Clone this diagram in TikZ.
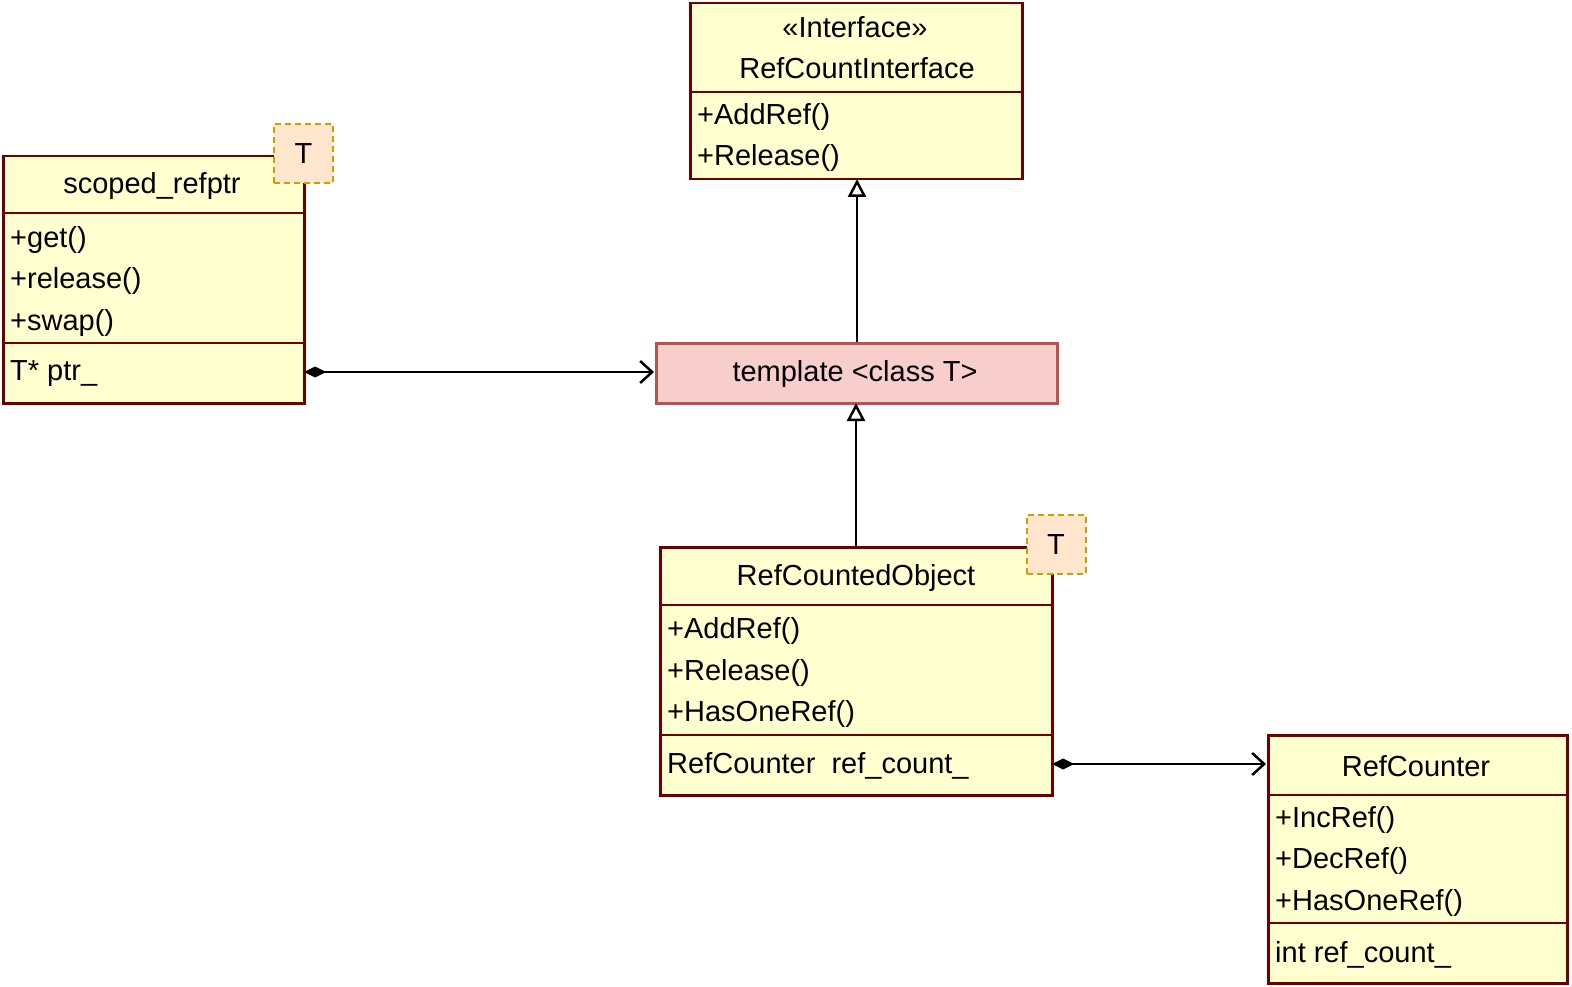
\documentclass[tikz,border=0pt]{standalone}
\usepackage{fontspec}
\setmainfont{Liberation Sans}
\usetikzlibrary{arrows.meta}
\definecolor{bd}{HTML}{6F0000}
\definecolor{fl}{HTML}{FFFFD0}
\begin{document}
\begin{tikzpicture}[x=1pt,y=-1pt,
 box/.style={draw=bd,fill=fl,line width=2.5pt,inner sep=0,anchor=north west},
 t/.style={inner sep=0,font=\fontsize{29}{34}\selectfont,anchor=west},
 c/.style={inner sep=0,font=\fontsize{29}{34}\selectfont},
 tb/.style={draw={rgb,255:red,215;green,155;blue,0},fill={rgb,255:red,255;green,230;blue,204},dash pattern=on 6pt off 4pt,line width=2pt,minimum width=59pt,minimum height=59pt,inner sep=0,font=\fontsize{29}{34}\selectfont},
 ln/.style={line width=2.5pt},
 inh/.style={line width=2.5pt,-{Triangle[open,length=18pt,width=18pt]}},
 comp/.style={line width=2.5pt,{Diamond[length=22pt,width=11pt]}-{Straight Barb[length=12pt,width=22pt]}}]
\useasboundingbox (0,0) rectangle (1572,987);
% Interface
\node[box,minimum width=332pt,minimum height=176pt] (ri) at (689,2) {};
\draw[bd,ln] (689,92) -- (1021,92);
\node[c] (ri1) at (855,27) {<<Interface>>};
\node[c] (ri2) at (857,68) {RefCountInterface};
\node[t] (ri3) at (697,117) {+AddRef()};
\node[t] (ri4) at (697,158) {+Release()};
% scoped_refptr
\node[box,minimum width=301pt,minimum height=247pt] (sr) at (2,155) {};
\draw[bd,ln] (2,213) -- (303,213) (2,343) -- (303,343);
\node[c] (sr0) at (152,186) {scoped\_refptr};
\node[t] (sr1) at (10,240) {+get()};
\node[t] (sr2) at (10,281) {+release()};
\node[t] (sr3) at (10,323) {+swap()};
\node[t] (sr4) at (10,374) {T* ptr\_};
\node[tb] (srt) at (303.5,153.5) {T};
% template
\node[box,draw={rgb,255:red,184;green,84;blue,80},fill={rgb,255:red,248;green,206;blue,204},minimum width=401pt,minimum height=60pt] (tp) at (655,342) {};
\node[c] at (855,374) {template <class T>};
% RefCountedObject
\node[box,minimum width=392pt,minimum height=248pt] (ro) at (659,546) {};
\draw[bd,ln] (659,605) -- (1051,605) (659,735) -- (1051,735);
\node[c] (ro0) at (856,578) {RefCountedObject};
\node[t] (ro1) at (667,631) {+AddRef()};
\node[t] (ro2) at (667,673) {+Release()};
\node[t] (ro3) at (667,714) {+HasOneRef()};
\node[t] (ro4) at (667,766) {RefCounter\ \ ref\_count\_};
\node[tb] (rot) at (1056,544.5) {T};
% RefCounter
\node[box,minimum width=299pt,minimum height=248pt] (rc) at (1267,734) {};
\draw[bd,ln] (1267,795) -- (1566,795) (1267,923) -- (1566,923);
\node[c] (rc0) at (1416,766) {RefCounter};
\node[t] (rc1) at (1275,820) {+IncRef()};
\node[t] (rc2) at (1275,861) {+DecRef()};
\node[t] (rc3) at (1275,903) {+HasOneRef()};
\node[t] (rc4) at (1275,955) {int ref\_count\_};
% connectors
\coordinate (a1) at (857,342); \coordinate (a2) at (857,179);
\draw[inh] (a1) -- (a2);
\coordinate (b1) at (856,546); \coordinate (b2) at (856,403);
\draw[inh] (b1) -- (b2);
\coordinate (c1) at (304,372); \coordinate (c2) at (654,372);
\draw[comp] (c1) -- (c2);
\coordinate (d1) at (1052,764); \coordinate (d2) at (1266,764);
\draw[comp] (d1) -- (d2);
\end{tikzpicture}
\end{document}
